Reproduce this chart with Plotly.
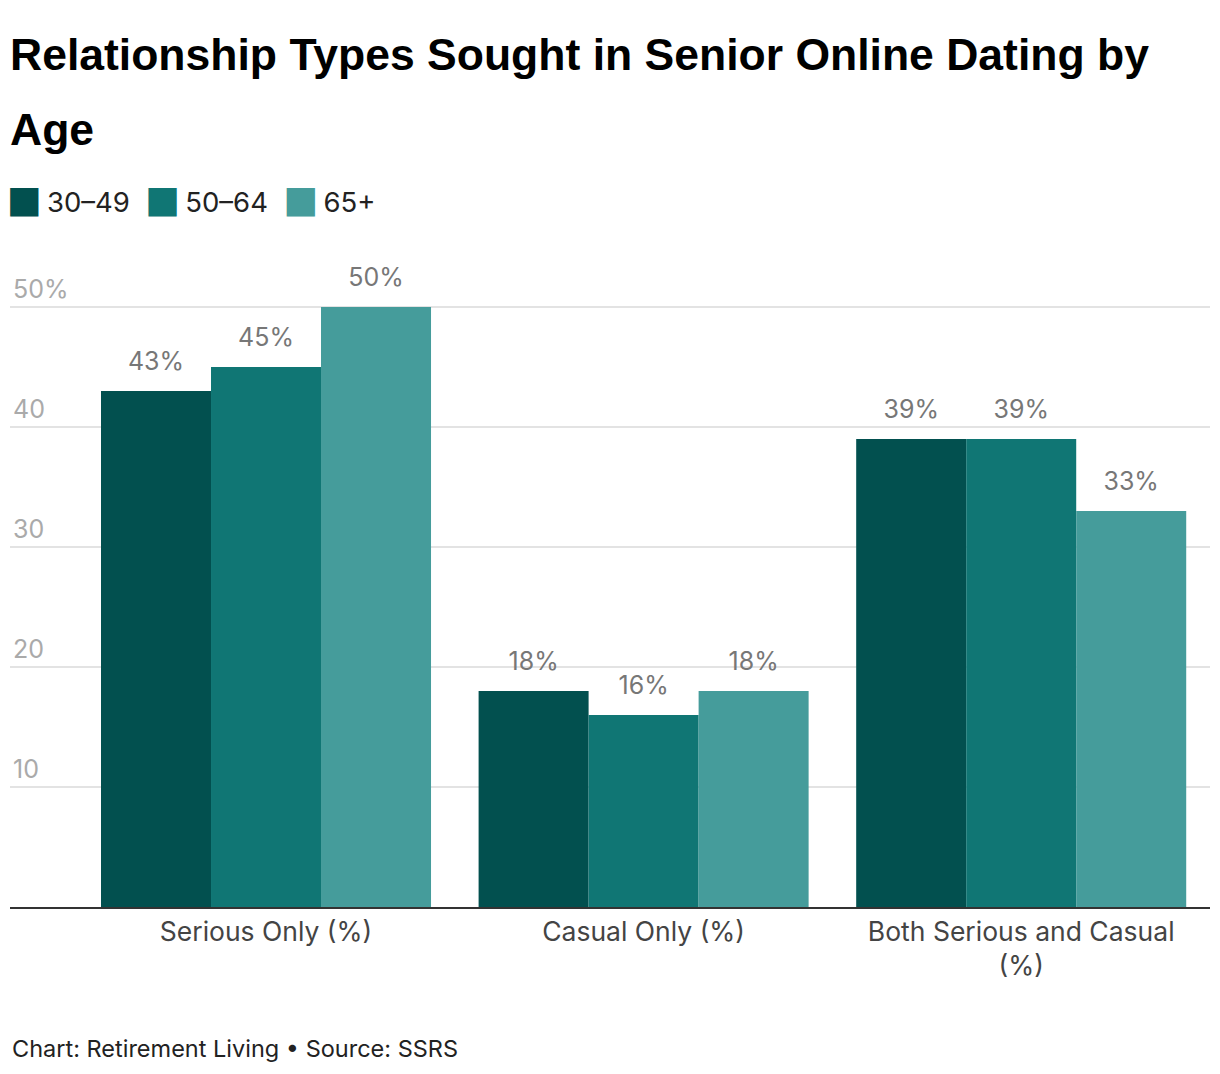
import plotly.graph_objects as go

categories = ["Serious Only (%)", "Casual Only (%)", "Both Serious and Casual<br>(%)"]
series_names = ["30–49", "50–64", "65+"]
series_values = [
    [43, 18, 39],
    [45, 16, 39],
    [50, 18, 33],
]
colors = ["#02504f", "#107674", "#459c9b"]
tick_vals = [10, 20, 30, 40, 50]
tick_text = ["10", "20", "30", "40", "50%"]

W, H = 1220, 1074
ML, MR, MT, MB = 10, 10, 259, 167
plot_w = W - ML - MR
plot_h = H - MT - MB
Y_MAX = 54

def py(px):
    return (H - MB - px) / plot_h

def px_x(px):
    return (px - ML) / plot_w

fig = go.Figure()
for i, (name, vals, col) in enumerate(zip(series_names, series_values, colors)):
    fig.add_trace(go.Bar(
        x=categories, y=vals, name=name, marker=dict(color=col, line=dict(width=0)),
        offsetgroup=str(i), showlegend=False, hoverinfo="skip",
    ))
for i, (name, vals, col) in enumerate(zip(series_names, series_values, colors)):
    fig.add_trace(go.Scatter(
        x=categories, y=vals, name=name, mode="markers+text",
        marker=dict(size=22, color="rgba(0,0,0,0)"),
        text=[f"{v}%" for v in vals], textposition="top center",
        textfont=dict(family="Inter", size=25, color="#777777"),
        offsetgroup=str(i), cliponaxis=False, showlegend=False,
    ))

legend_text = "&nbsp;&nbsp;".join(
    f"<span style='color:{c};font-family:DejaVu Sans;font-size:37px'>■</span>&#8201;{n}"
    for n, c in zip(series_names, colors)
)

fig.update_layout(
    width=W, height=H,
    margin=dict(l=ML, r=MR, t=MT, b=MB),
    paper_bgcolor="white", plot_bgcolor="white",
    barmode="group", bargap=0.126, bargroupgap=0,
    scattermode="group", scattergap=0.126,
    font=dict(family="Inter", size=25, color="#444444"),
    xaxis=dict(
        range=[-0.678, 2.5], showgrid=False, showline=True, linecolor="#333333",
        linewidth=2, ticks="", tickfont=dict(size=26.5, color="#444444"),
    ),
    yaxis=dict(
        range=[0, Y_MAX], tickvals=tick_vals, ticktext=tick_text,
        ticklabelposition="inside top", tickfont=dict(size=25, color="#aaaaaa"),
        showgrid=True, gridcolor="#e3e3e3", gridwidth=1.5, zeroline=False,
        showline=False, ticks="",
    ),
    annotations=[
        dict(text="Relationship Types Sought in Senior Online Dating by", x=px_x(8), y=py(54),
             xref="paper", yref="paper", xanchor="left", yanchor="middle", showarrow=False,
             font=dict(family="Liberation Sans", size=44.5, color="#000000", weight="bold")),
        dict(text="Age", x=px_x(8), y=py(129),
             xref="paper", yref="paper", xanchor="left", yanchor="middle", showarrow=False,
             font=dict(family="Liberation Sans", size=44.5, color="#000000", weight="bold")),
        dict(text=legend_text, x=px_x(5), y=py(200),
             xref="paper", yref="paper", xanchor="left", yanchor="middle", showarrow=False,
             font=dict(family="Inter", size=27.5, color="#222222")),
        dict(text="Chart: Retirement Living • Source: SSRS", x=0, y=py(1048),
             xref="paper", yref="paper", xanchor="left", yanchor="middle", showarrow=False,
             font=dict(family="Inter", size=23.5, color="#222222")),
    ],
)

fig.write_html("out.html")
